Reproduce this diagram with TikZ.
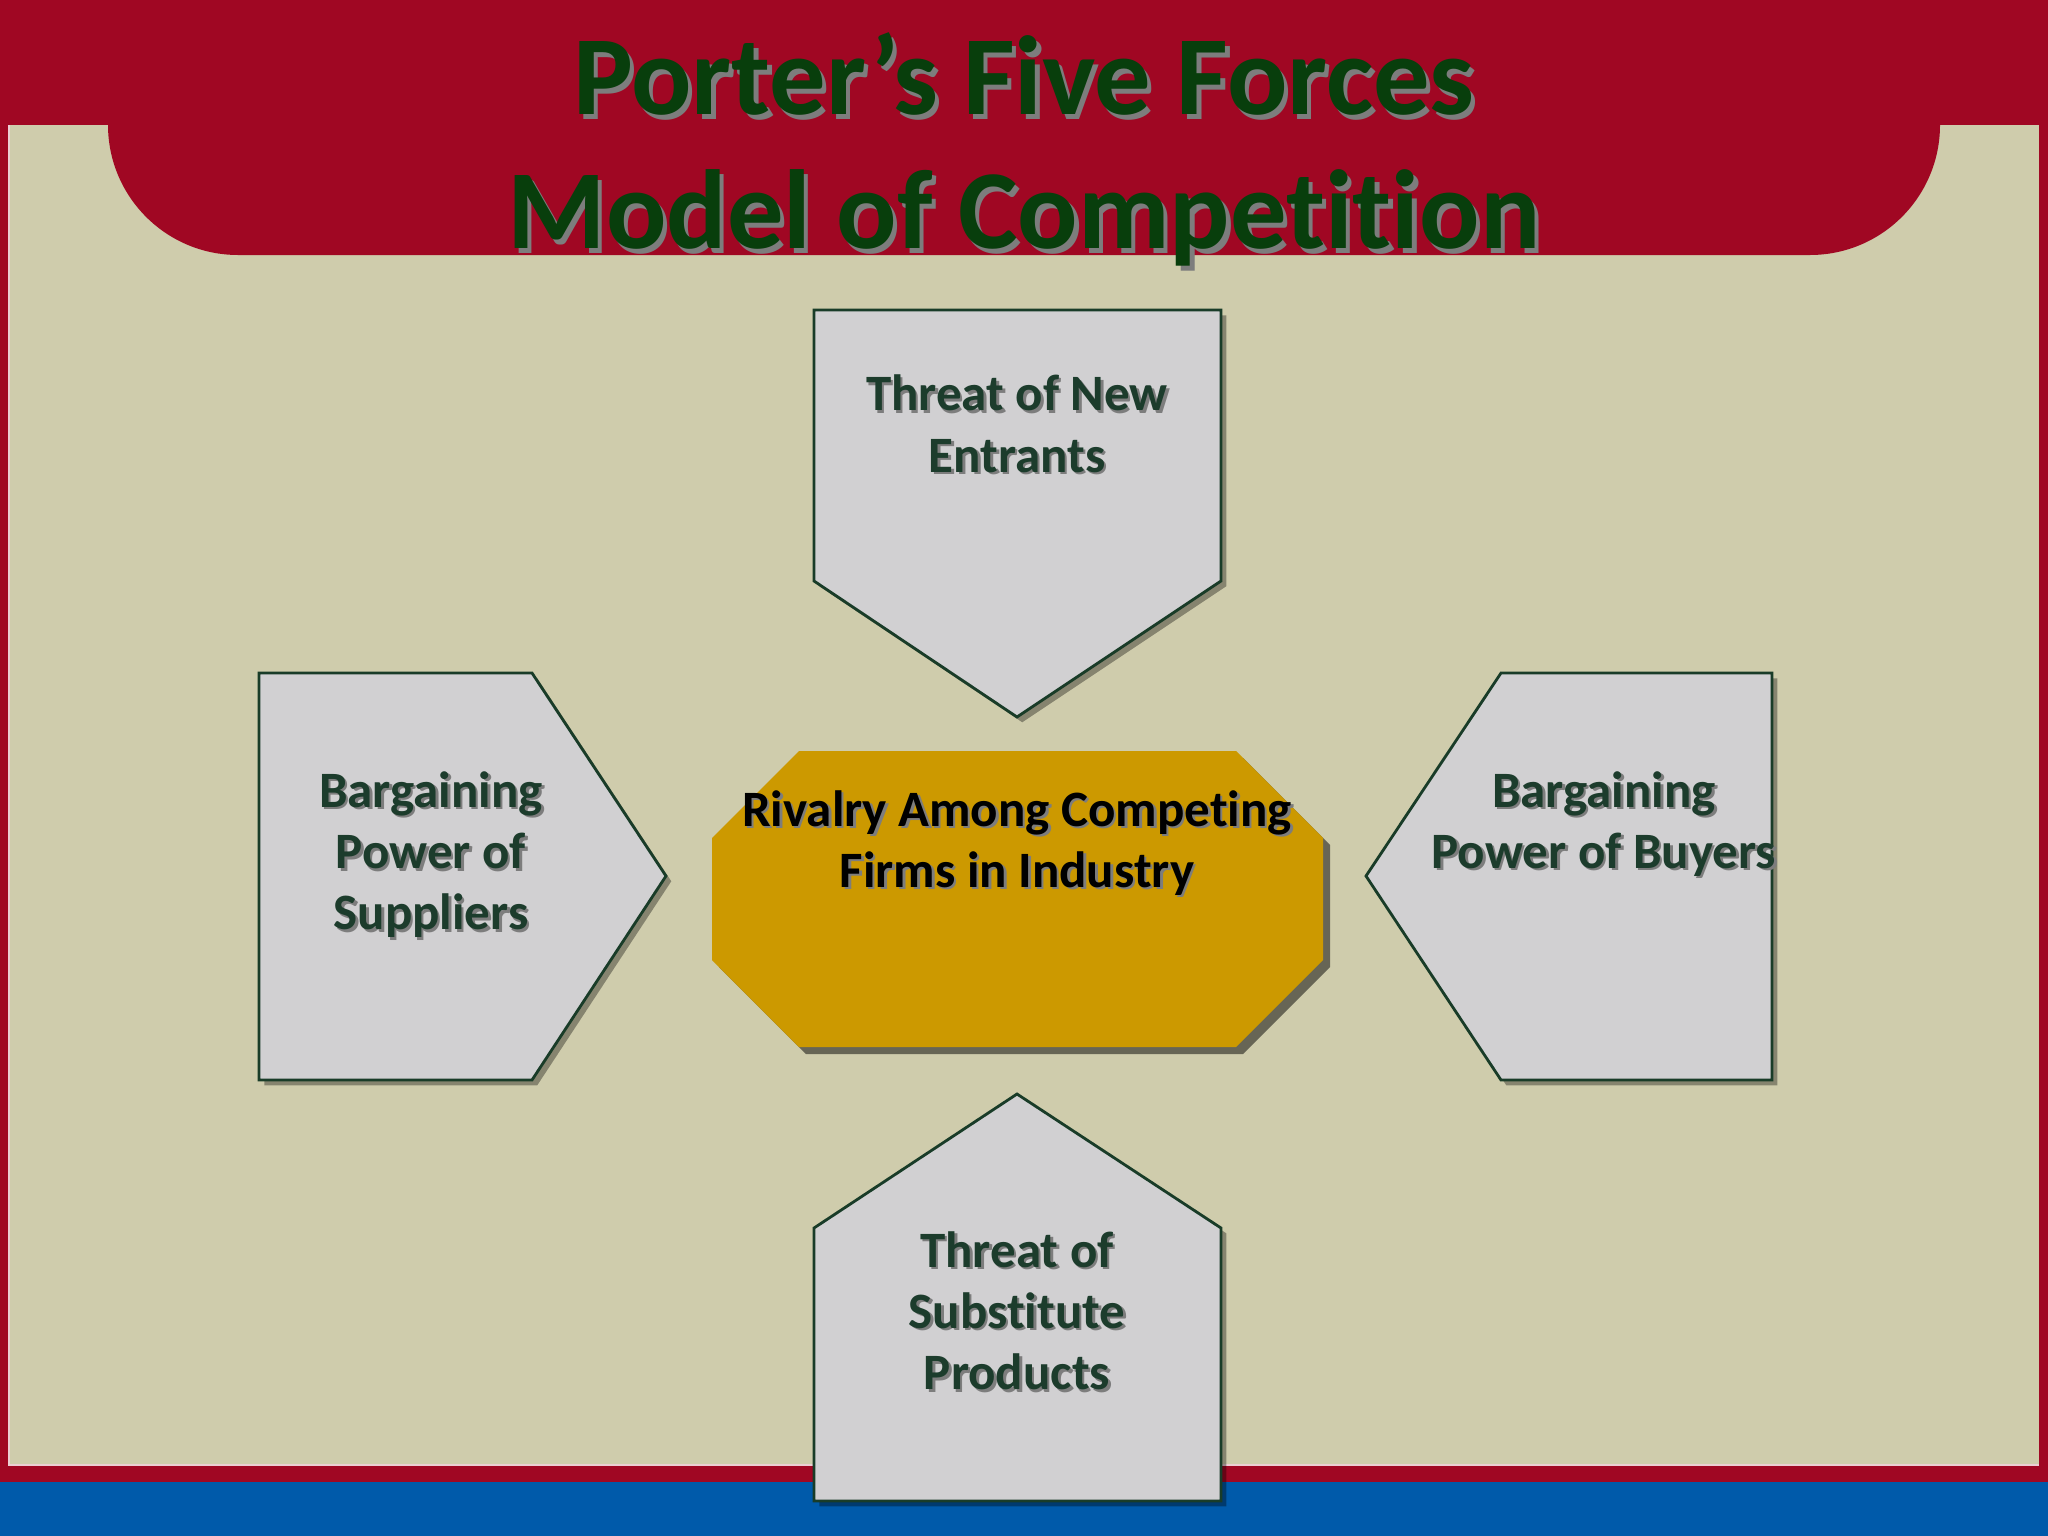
\documentclass[tikz,border=0pt]{standalone}
\usepackage{fontspec}
\setmainfont{Carlito}[Ligatures=NoCommon]
\usetikzlibrary{shadows}
\definecolor{xRed}{RGB}{160,7,35}
\definecolor{xBeige}{RGB}{207,204,172}
\definecolor{xBlue}{RGB}{0,90,170}
\definecolor{xGold}{RGB}{204,153,0}
\definecolor{xForce}{RGB}{209,208,210}
\definecolor{xForceLine}{RGB}{25,60,40}
\definecolor{xForceText}{RGB}{28,60,44}
\definecolor{xTitle}{RGB}{8,62,12}
\definecolor{xShade}{RGB}{125,125,125}

% text with a small grey shadow under it
\newcommand\shd[1]{\makebox[0pt][l]{\hspace{0.7pt}\raisebox{-0.7pt}{\textcolor{xShade}{#1}}}#1}
\newcommand\tshd[1]{\makebox[0pt][l]{\hspace{1.2pt}\raisebox{-1.2pt}{\textcolor{xShade}{#1}}}#1}

\begin{document}
\begin{tikzpicture}[x=0.01cm,y=-0.01cm,
    forcebox/.style={fill=xForce, draw=xForceLine, line width=0.8pt, line join=miter,
        drop shadow={shadow xshift=1.5pt, shadow yshift=-1.5pt, fill=black, opacity=0.35}},
    forcelabel/.style={align=center, text=xForceText,
        font=\fontsize{14.5}{17.4}\selectfont\bfseries}]

    \useasboundingbox (0,0) rectangle (2048,1536);
    \clip (0,0) rectangle (2048,1536);

    % -------------------------------------------------
    % Slide frame: red border, beige panel, blue foot
    % -------------------------------------------------
    \fill[xRed] (0,0) rectangle (2048,1536);
    \fill[xBeige] (9,125) rectangle (2039,1465);
    \draw[white!80!xRed, line width=0.5pt] (9,125) -- (9,1465) -- (2039,1465);
    \fill[xBlue] (0,1482) rectangle (2048,1536);

    % -------------------------------------------------
    % Title tab, only the lower corners show
    % -------------------------------------------------
    \fill[xRed, rounded corners=1.3cm] (108,-200) rectangle (1940,255);

    \node[align=center, text=xTitle,
          font=\fontsize{32}{38.1}\selectfont\bfseries] (title) at (1024,152)
        {\tshd{Porter’s Five Forces}\\\tshd{Model of Competition}};

    % -------------------------------------------------
    % Four forces, each a pentagon pointing inwards
    % -------------------------------------------------
    \path[forcebox] (814,310) -- (1221,310) -- (1221,581) -- (1017,717) -- (814,581) -- cycle;
    \path[forcebox] (259,673) -- (532,673) -- (666,876) -- (532,1080) -- (259,1080) -- cycle;
    \path[forcebox] (1366,876) -- (1501,673) -- (1772,673) -- (1772,1080) -- (1501,1080) -- cycle;
    \path[forcebox] (1017,1094) -- (1221,1228) -- (1221,1501) -- (814,1501) -- (814,1228) -- cycle;

    % -------------------------------------------------
    % Rivalry octagon in the middle
    % -------------------------------------------------
    \fill[xGold, drop shadow={shadow xshift=2pt, shadow yshift=-2pt, fill=black, opacity=0.5}]
        (799,751) -- (1236,751) -- (1323,838) -- (1323,960) --
        (1236,1047) -- (799,1047) -- (712,960) -- (712,838) -- cycle;

    % -------------------------------------------------
    % Labels
    % -------------------------------------------------
    \node[forcelabel] (entrants) at (1017,425) {\shd{Threat of New}\\\shd{Entrants}};
    \node[forcelabel] (suppliers) at (431,856) {\shd{Bargaining}\\\shd{Power of}\\\shd{Suppliers}};
    \node[forcelabel] (buyers) at (1604,825) {\shd{Bargaining}\\\shd{Power of Buyers}};
    \node[forcelabel] (substitutes) at (1017,1312) {\shd{Threat of}\\\shd{Substitute}\\\shd{Products}};
    \node[forcelabel, text=black] (rivalry) at (1017,844) {\shd{Rivalry Among Competing}\\\shd{Firms in Industry}};

\end{tikzpicture}
\end{document}
